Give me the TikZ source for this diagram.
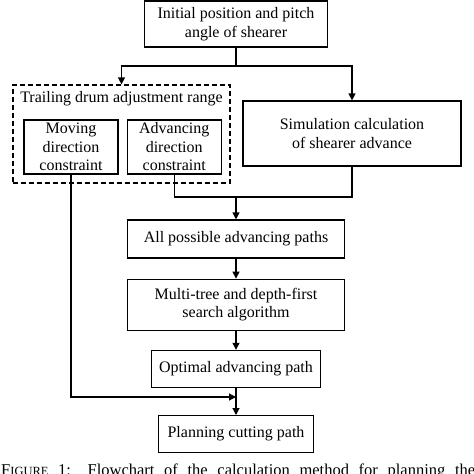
\documentclass[tikz,border=0pt]{standalone}
\usepackage{fontspec}
\setmainfont{Liberation Serif}
\usepackage{tikz}
\usetikzlibrary{arrows.meta, positioning}

\begin{document}
\begin{tikzpicture}[
    box/.style={draw, line width=1.2pt, align=center, inner sep=2pt,
                font=\fontsize{16}{18.5}\selectfont},
    groupbox/.style={draw, line width=1.2pt, dash pattern=on 5pt off 3pt},
    arrow/.style={-{Triangle[length=7pt,width=7pt]}, line width=1.2pt},
    link/.style={line width=1.2pt},
]
    \clip (0,0) rectangle (474pt,-474pt);
    \fill[white] (0,0) rectangle (474pt,-474pt);

    \node[box, minimum width=183pt, minimum height=46pt] (init) at (236pt,-24pt)
        {Initial position and pitch\\angle of shearer};
    \node[box, minimum width=218pt, minimum height=65pt] (sim) at (352pt,-133.5pt)
        {Simulation calculation\\of shearer advance};

    % trailing drum group
    \node[groupbox, minimum width=217pt, minimum height=98pt] (drum) at (121.5pt,-134pt) {};
    \node[below=6pt of drum.north, inner sep=1pt, font=\fontsize{16}{18.5}\selectfont] (drumtitle)
        {Trailing drum adjustment range};
    \node[box, minimum width=94pt, minimum height=54pt, inner sep=0pt] (move) at (71pt,-147pt)
        {Moving\\direction\\constraint};
    \node[box, minimum width=94pt, minimum height=54pt, inner sep=0pt, right=8pt of move] (adv)
        {Advancing\\direction\\constraint};

    \node[box, minimum width=217pt, minimum height=38pt] (all) at (236pt,-239pt)
        {All possible advancing paths};
    \node[box, minimum width=217pt, minimum height=51pt, below=20pt of all] (multi)
        {Multi-tree and depth-first\\search algorithm};
    \node[box, minimum width=169pt, minimum height=37pt, below=19pt of multi] (opt)
        {Optimal advancing path};
    \node[box, minimum width=155pt, minimum height=37pt, below=27pt of opt] (plan)
        {Planning cutting path};

    \node[anchor=base west, inner sep=0pt, font=\fontsize{16.5}{18}\selectfont] (caption) at (1pt,-475pt)
        {\makebox[474pt][s]{F{\fontsize{12.5}{18}\selectfont IGURE} 1: Flowchart of the calculation method for planning the}};

    \coordinate (split) at (236pt,-66pt);
    \coordinate (join) at (236pt,-197pt);
    \coordinate (meet) at (236pt,-397pt);

    \draw[link] (init.south) -- (split);
    \draw[arrow] (split) -| (drum.north);
    \draw[arrow] (split) -| (sim.north);
    \draw[link] (adv.south) |- (join) -| (sim.south);
    \draw[arrow] (join) -- (all.north);
    \draw[arrow] (all.south) -- (multi.north);
    \draw[arrow] (multi.south) -- (opt.north);
    \draw[arrow] (move.south) |- (meet);
    \draw[arrow] (opt.south) -- (plan.north);
\end{tikzpicture}
\end{document}
